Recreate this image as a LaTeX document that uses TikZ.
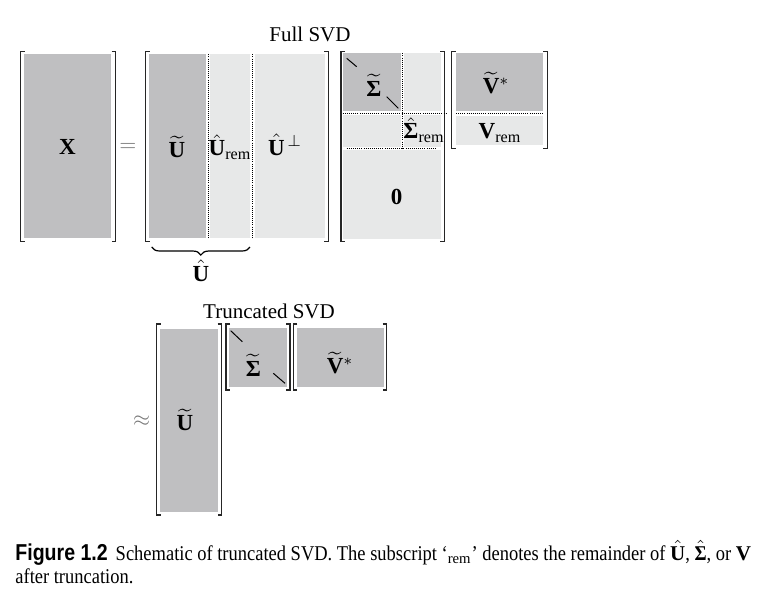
\documentclass[tikz,border=0pt]{standalone}
\usepackage{amsmath}
\usepackage{fontspec}
\setmainfont{Liberation Serif}
\setsansfont{Liberation Sans}
\newfontfamily\capfont[FakeStretch=0.88]{Liberation Serif}
\usetikzlibrary{decorations.pathreplacing,calc}
\definecolor{blockgray}{RGB}{191,191,193}
\definecolor{remgray}{RGB}{231,232,232}
\definecolor{opgray}{RGB}{120,120,120}
\newcommand{\bSig}{\text{\textbf{Σ}}}
\tikzset{
  bracket/.style={line width=0.7pt, black!85},
  block/.style={fill=blockgray},
  remblock/.style={fill=remgray},
  sepline/.style={line width=0.5pt, dash pattern=on 0.5pt off 0.55pt},
  diagline/.style={line width=0.5pt},
  lbl/.style={font=\fontsize{11.5}{13}\selectfont, inner sep=0pt},
  oplbl/.style={text=opgray, inner sep=0pt},
}

\begin{document}
\begin{tikzpicture}[x=0.5pt,y=-0.5pt,font=\fontsize{10.5}{12}\selectfont]
  \useasboundingbox (0,0) rectangle (764,601);

  % titles
  \node (fulltitle) at (310,34) {Full SVD};
  \node (trunctitle) at (269,311) {Truncated SVD};

  % brackets: left x / top y / right x / bottom y
  \foreach \xa/\ya/\xb/\yb in {20.7/51.7/115.7/241.7, 145.7/51.7/328.3/241.7,
      341/51.7/444.3/241.7, 451.7/51.7/547.3/148.3,
      156.7/324/221.7/515, 226/324/290/390, 293.3/324/386.7/390} {
    \draw[bracket] (\xa+4,\ya) -| (\xa,\yb) -- (\xa+4,\yb);
    \draw[bracket] (\xb-4,\ya) -| (\xb,\yb) -- (\xb-4,\yb);
  }

  % X
  \fill[block] (24,54.3) rectangle (111,238.3);
  \node[lbl] (xmat) at (67.5,147) {$\mathbf{X}$};
  \node[oplbl] (eq) at (128,147) {$=$};

  % U = [U~ U^rem U^perp]
  \fill[block] (149,54.3) rectangle (206,238.3);
  \fill[remblock] (210,54.3) rectangle (250,238.3);
  \fill[remblock] (255,54.3) rectangle (325,238.3);
  \draw[sepline] (208,54.3) -- (208,238.3);
  \draw[sepline] (252.5,54.3) -- (252.5,238.3);
  \node[lbl] (util) at (177,147) {$\widetilde{\mathbf{U}}$};
  \node[lbl] (urem) at (230,147) {$\hat{\mathbf{U}}_{\mathrm{rem}}$};
  \node[lbl] (uperp) at (285,145) {$\hat{\mathbf{U}}^{\,\perp}$};
  \coordinate (braceL) at (151.7,247);
  \coordinate (braceR) at (250,247);
  \draw[line width=0.6pt, decorate, decoration={brace, mirror, amplitude=4pt}]
    (braceL) -- (braceR);
  \node[lbl] (uhat) at (201,271) {$\hat{\mathbf{U}}$};

  % Sigma
  \fill[block] (342.7,53.3) rectangle (400.5,111.3);
  \fill[remblock] (404,53.3) rectangle (441,111.3);
  \fill[remblock] (342.7,115.3) rectangle (400.5,146.8);
  \fill[remblock] (404,115.3) rectangle (441,146.8);
  \fill[remblock] (342.7,150) rectangle (441,239.3);
  \draw[sepline] (402.3,53.3) -- (402.3,148.3);
  \draw[sepline] (342.7,113.3) -- (446,113.3);
  \draw[sepline] (346.7,148.3) -- (436.7,148.3);
  \draw[diagline] (346.7,58.3) -- (356.7,66.7);
  \draw[diagline] (386.7,96.7) -- (398.3,108.3);
  \node[lbl] (sigtil) at (374,85) {$\widetilde{\bSig}$};
  \node[lbl] (sigrem) at (424,130) {$\hat{\bSig}_{\mathrm{rem}}$};
  \node[lbl] (zero) at (396.7,197) {$\mathbf{0}$};

  % V*
  \fill[block] (456,53.3) rectangle (542.7,111.3);
  \fill[remblock] (456,116) rectangle (542.7,145);
  \draw[sepline] (456,113.3) -- (542.7,113.3);
  \node[lbl] (vtil) at (496,83) {$\widetilde{\mathbf{V}}^{*}$};
  \node[lbl] (vrem) at (500,133) {$\mathbf{V}_{\mathrm{rem}}$};

  % truncated
  \node[oplbl] (approx) at (141.7,421) {$\approx$};
  \fill[block] (160,329) rectangle (218.3,511.7);
  \node[lbl] (tutil) at (185,420) {$\widetilde{\mathbf{U}}$};
  \fill[block] (229,327.7) rectangle (287.3,387.3);
  \draw[diagline] (230.7,330.7) -- (242.3,341.7);
  \draw[diagline] (273.3,373.3) -- (285,383.3);
  \node[lbl] (tsig) at (253.3,365) {$\widetilde{\bSig}$};
  \fill[block] (297.3,327.7) rectangle (384,387.3);
  \node[lbl] (tvtil) at (340,363) {$\widetilde{\mathbf{V}}^{*}$};

  % caption
  \node[anchor=base west, inner sep=0pt, font=\fontsize{10.5}{12}\capfont] (capline1) at (15,560)
    {\scalebox{0.85}[1]{\fontsize{11.5}{12}\sffamily\bfseries Figure 1.2}\hspace{4pt}Schematic of truncated SVD. The subscript ‘$_{\mathrm{rem}}$’ denotes the remainder of $\hat{\mathbf{U}}$, $\hat{\bSig}$, or $\mathbf{V}$};
  \node[anchor=base west, inner sep=0pt, font=\fontsize{10.5}{12}\capfont] (capline2) at (15,583) {after truncation.};
\end{tikzpicture}
\end{document}
